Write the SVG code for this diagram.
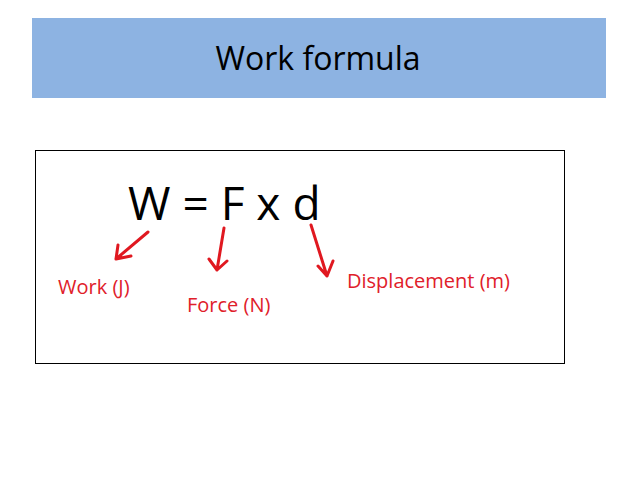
<svg xmlns="http://www.w3.org/2000/svg" width="638" height="478" viewBox="0 0 638 478">
<style>
.t{font-family:"Open Sans","Liberation Sans",sans-serif}
.r{fill:#e0202a;font-size:20px}
.a{stroke:#e01820;stroke-width:3;fill:none;stroke-linecap:round;stroke-linejoin:round}
</style>
<rect width="638" height="478" fill="#fff"/>
<g id="title"><rect x="32" y="18" width="574" height="80" fill="#8db3e2"/>
<text class="t" x="318" y="70" text-anchor="middle" font-size="32" fill="#000">Work formula</text></g>
<g id="box"><rect x="35.5" y="150.5" width="529" height="213" fill="none" stroke="#000" stroke-width="1"/></g>
<g id="formula"><text class="t" x="128" y="220" font-size="46" fill="#000">W = F x d</text></g>
<g id="work"><text class="t r" x="58" y="294">Work (J)</text></g>
<g id="force"><text class="t r" x="187" y="312">Force (N)</text></g>
<g id="disp"><text class="t r" x="347" y="288">Displacement (m)</text></g>
<g id="connectors">
<path class="a" d="M148 232 L116 259 M116 259 L118 245 M116 259 L131 256"/>
<path class="a" d="M224 228 L217 270 M217 270 L209 259 M217 270 L227 261"/>
<path class="a" d="M311 225 L327 276 M327 276 L318 266 M327 276 L333 261"/>
</g>
</svg>
